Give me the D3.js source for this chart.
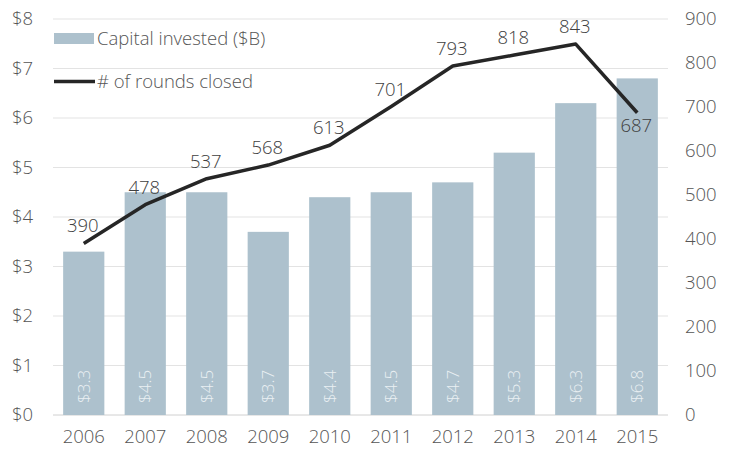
<!DOCTYPE html>
<html><head><meta charset="utf-8">
<script src="https://cdn.jsdelivr.net/npm/d3@7"></script>
<style>
body{margin:0;background:#fff;}
text{font-family:"Open Sans","Segoe UI",sans-serif;font-weight:300;}
</style></head>
<body><svg id="c" width="732" height="456"></svg>
<script>
const years = ["2006","2007","2008","2009","2010","2011","2012","2013","2014","2015"];
const capital = [3.3,4.5,4.5,3.7,4.4,4.5,4.7,5.3,6.3,6.8];
const rounds = [390,478,537,568,613,701,793,818,843,687];
const leftTicks = [0,1,2,3,4,5,6,7,8];
const rightTicks = [0,100,200,300,400,500,600,700,800,900];
const seriesNames = ["Capital invested ($B)","# of rounds closed"];

const svg = d3.select("#c");
const L = 53, R = 668, T = 19, B = 415;
const x = d3.scaleBand().domain(years).range([L,R]).paddingInner(0.33).paddingOuter(0.165);
const yL = d3.scaleLinear().domain([0,8]).range([B,T]);
const yR = d3.scaleLinear().domain([0,900]).range([B,T]);
const textCol = "#555555";

// gridlines
svg.append("g").selectAll("line").data(leftTicks).join("line")
  .attr("x1",L).attr("x2",R).attr("y1",d=>yL(d)).attr("y2",d=>yL(d))
  .attr("stroke",d=>d===0?"#d0d0d0":"#e3e3e3").attr("stroke-width",1);

// left axis
const axL = d3.axisLeft(yL).tickValues(leftTicks).tickFormat(d=>"$"+d).tickSize(0).tickPadding(0);
const gL = svg.append("g").attr("transform",`translate(33,0)`).call(axL);
gL.select(".domain").remove();
gL.selectAll("text").attr("font-size",18.5).attr("fill",textCol).attr("font-family",null);

// right axis
const axR = d3.axisRight(yR).tickValues(rightTicks).tickSize(0).tickPadding(0);
const gR = svg.append("g").attr("transform",`translate(685,0)`).call(axR);
gR.select(".domain").remove();
gR.selectAll("text").attr("font-size",18.5).attr("fill",textCol).attr("font-family",null);

// x axis
const axX = d3.axisBottom(x).tickSize(0).tickPadding(0);
const gX = svg.append("g").attr("transform",`translate(0,430)`).call(axX);
gX.select(".domain").remove();
gX.selectAll("text").attr("font-size",18.5).attr("fill",textCol).attr("font-family",null).attr("dy","0.71em");

// bars
svg.append("g").selectAll("rect").data(capital).join("rect")
  .attr("x",(d,i)=>x(years[i])).attr("width",x.bandwidth())
  .attr("y",d=>yL(d)).attr("height",d=>B-yL(d)).attr("fill","#adc1cd");

// bar labels
svg.append("g").selectAll("text").data(capital).join("text")
  .attr("transform",(d,i)=>`translate(${x(years[i])+x.bandwidth()/2+6},${B-12}) rotate(-90)`)
  .attr("font-size",17).attr("fill","#eaf0f3").attr("text-anchor","start")
  .text(d=>"$"+d.toFixed(1));

// line
const cx = i=>x(years[i])+x.bandwidth()/2;
svg.append("path").datum(rounds)
  .attr("d",d3.line().x((d,i)=>cx(i)).y(d=>yR(d)))
  .attr("fill","none").attr("stroke","#262626").attr("stroke-width",3.5).attr("stroke-linejoin","round");

// line labels
svg.append("g").selectAll("text").data(rounds).join("text")
  .attr("x",(d,i)=>cx(i)-1)
  .attr("y",(d,i)=> i===rounds.length-1 ? yR(d)+19 : yR(d)-11)
  .attr("text-anchor","middle").attr("font-size",18.5).attr("fill","#404040")
  .text(d=>d);

// legend
const lg = svg.append("g");
lg.append("rect").attr("x",54).attr("y",33).attr("width",40).attr("height",11).attr("fill","#adc1cd");
lg.append("text").attr("x",97).attr("y",45).attr("font-size",18.5).attr("fill",textCol).text(seriesNames[0]);
lg.append("line").attr("x1",54).attr("x2",95).attr("y1",81.5).attr("y2",81.5).attr("stroke","#262626").attr("stroke-width",3.5);
lg.append("text").attr("x",97).attr("y",88).attr("font-size",18.5).attr("fill",textCol).text(seriesNames[1]);
</script></body></html>
